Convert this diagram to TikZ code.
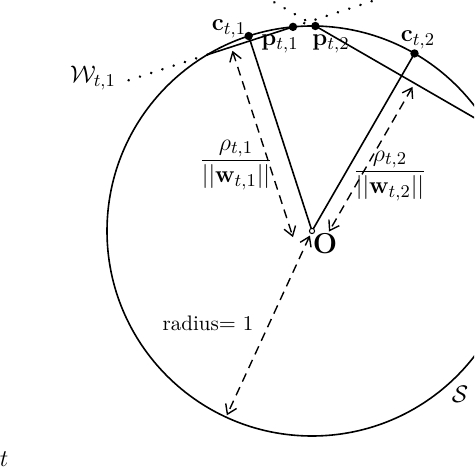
\documentclass[tikz,border=0pt]{standalone}
\usetikzlibrary{calc,arrows.meta}
\begin{document}
\begin{tikzpicture}[x=0.5pt,y=-0.5pt,
  every node/.style={inner sep=0pt, font=\fontsize{12.5}{15}\selectfont},
  solidline/.style={line width=0.8pt},
  dotline/.style={line width=1.4pt, line cap=round, dash pattern=on 0.01pt off 5.9pt},
  dimarrow/.style={line width=0.7pt, dash pattern=on 4.5pt off 3pt,
     {Straight Barb[length=4.5pt,width=6pt]}-{Straight Barb[length=4.5pt,width=6pt]}},
  pt/.style={fill=black}
]
\clip (0,0) rectangle (474,474);
\coordinate (O) at (312,231);
% sphere
\draw[solidline] (O) circle[radius=205];
% first hyperplane
\coordinate (C1) at ($(O)+(-108:205)$);
\coordinate (F1) at ($(O)+(-108:200)$);
\coordinate (P1) at ($(F1)+(-18:45)$);
\coordinate (Q1) at ($(F1)+(162:45)$);
\coordinate (W1a) at ($(F1)+(162:128)$);
\coordinate (W1b) at ($(F1)+(-18:180)$);
\draw[solidline] (Q1) -- (P1);
\draw[dotline] (Q1) -- (W1a);
\draw[dotline] (P1) -- (W1b);
% second hyperplane
\coordinate (C2) at ($(O)+(-60:205)$);
\coordinate (F2) at ($(O)+(-60:179.2)$);
\coordinate (P2) at ($(F2)+(210:99.6)$);
\coordinate (Q2) at ($(F2)+(30:99.6)$);
\coordinate (W2a) at ($(F2)+(210:205)$);
\draw[solidline] (P2) -- (Q2);
\draw[dotline] (P2) -- (W2a);
% radial lines
\draw[solidline] (C1) -- (O);
\draw[solidline] (C2) -- (O);
% distance arrows
\coordinate (A1s) at ($(O)+(162:20)+(-108:196)$);
\coordinate (A1e) at ($(O)+(162:20)$);
\draw[dimarrow] (A1s) -- (A1e);
\coordinate (A2s) at ($(O)+(30:15)+(-60:175)$);
\coordinate (A2e) at ($(O)+(30:15)+(-60:8)$);
\draw[dimarrow] (A2s) -- (A2e);
\coordinate (R1) at ($(O)+(114.8:5)$);
\coordinate (R2) at ($(O)+(114.8:203)$);
\draw[dimarrow] (R1) -- (R2);
% points
\fill[pt] (C1) circle[radius=4.2];
\fill[pt] (P1) circle[radius=4.2];
\fill[pt] (P2) circle[radius=4.2];
\fill[pt] (C2) circle[radius=4.2];
\draw[line width=0.5pt, fill=white] (O) circle[radius=2.6];
% labels
\node (lc1) at (229,29) {$\mathbf{c}_{t,1}$};
\node (lp1) at (280,44) {$\mathbf{p}_{t,1}$};
\node (lp2) at (331,44) {$\mathbf{p}_{t,2}$};
\node (lc2) at (418,40) {$\mathbf{c}_{t,2}$};
\node[font=\fontsize{13.5}{16}\selectfont] (lO) at (325,244) {$\mathbf{O}$};
\node[font=\fontsize{13}{16}\selectfont] (lW) at (93,78) {$\mathcal{W}_{t,1}$};
\node (lf1) at (236,165) {$\displaystyle\frac{\rho_{t,1}}{||\mathbf{w}_{t,1}||}$};
\node (lf2) at (390,176) {$\displaystyle\frac{\rho_{t,2}}{||\mathbf{w}_{t,2}||}$};
\node[font=\fontsize{10.5}{12}\selectfont] (lr) at (208,323) {radius$=$ 1};
\node[font=\fontsize{13}{16}\selectfont] (lS) at (460,394) {$\mathcal{S}$};
\node (lt) at (4,459) {$t$};
\end{tikzpicture}
\end{document}
